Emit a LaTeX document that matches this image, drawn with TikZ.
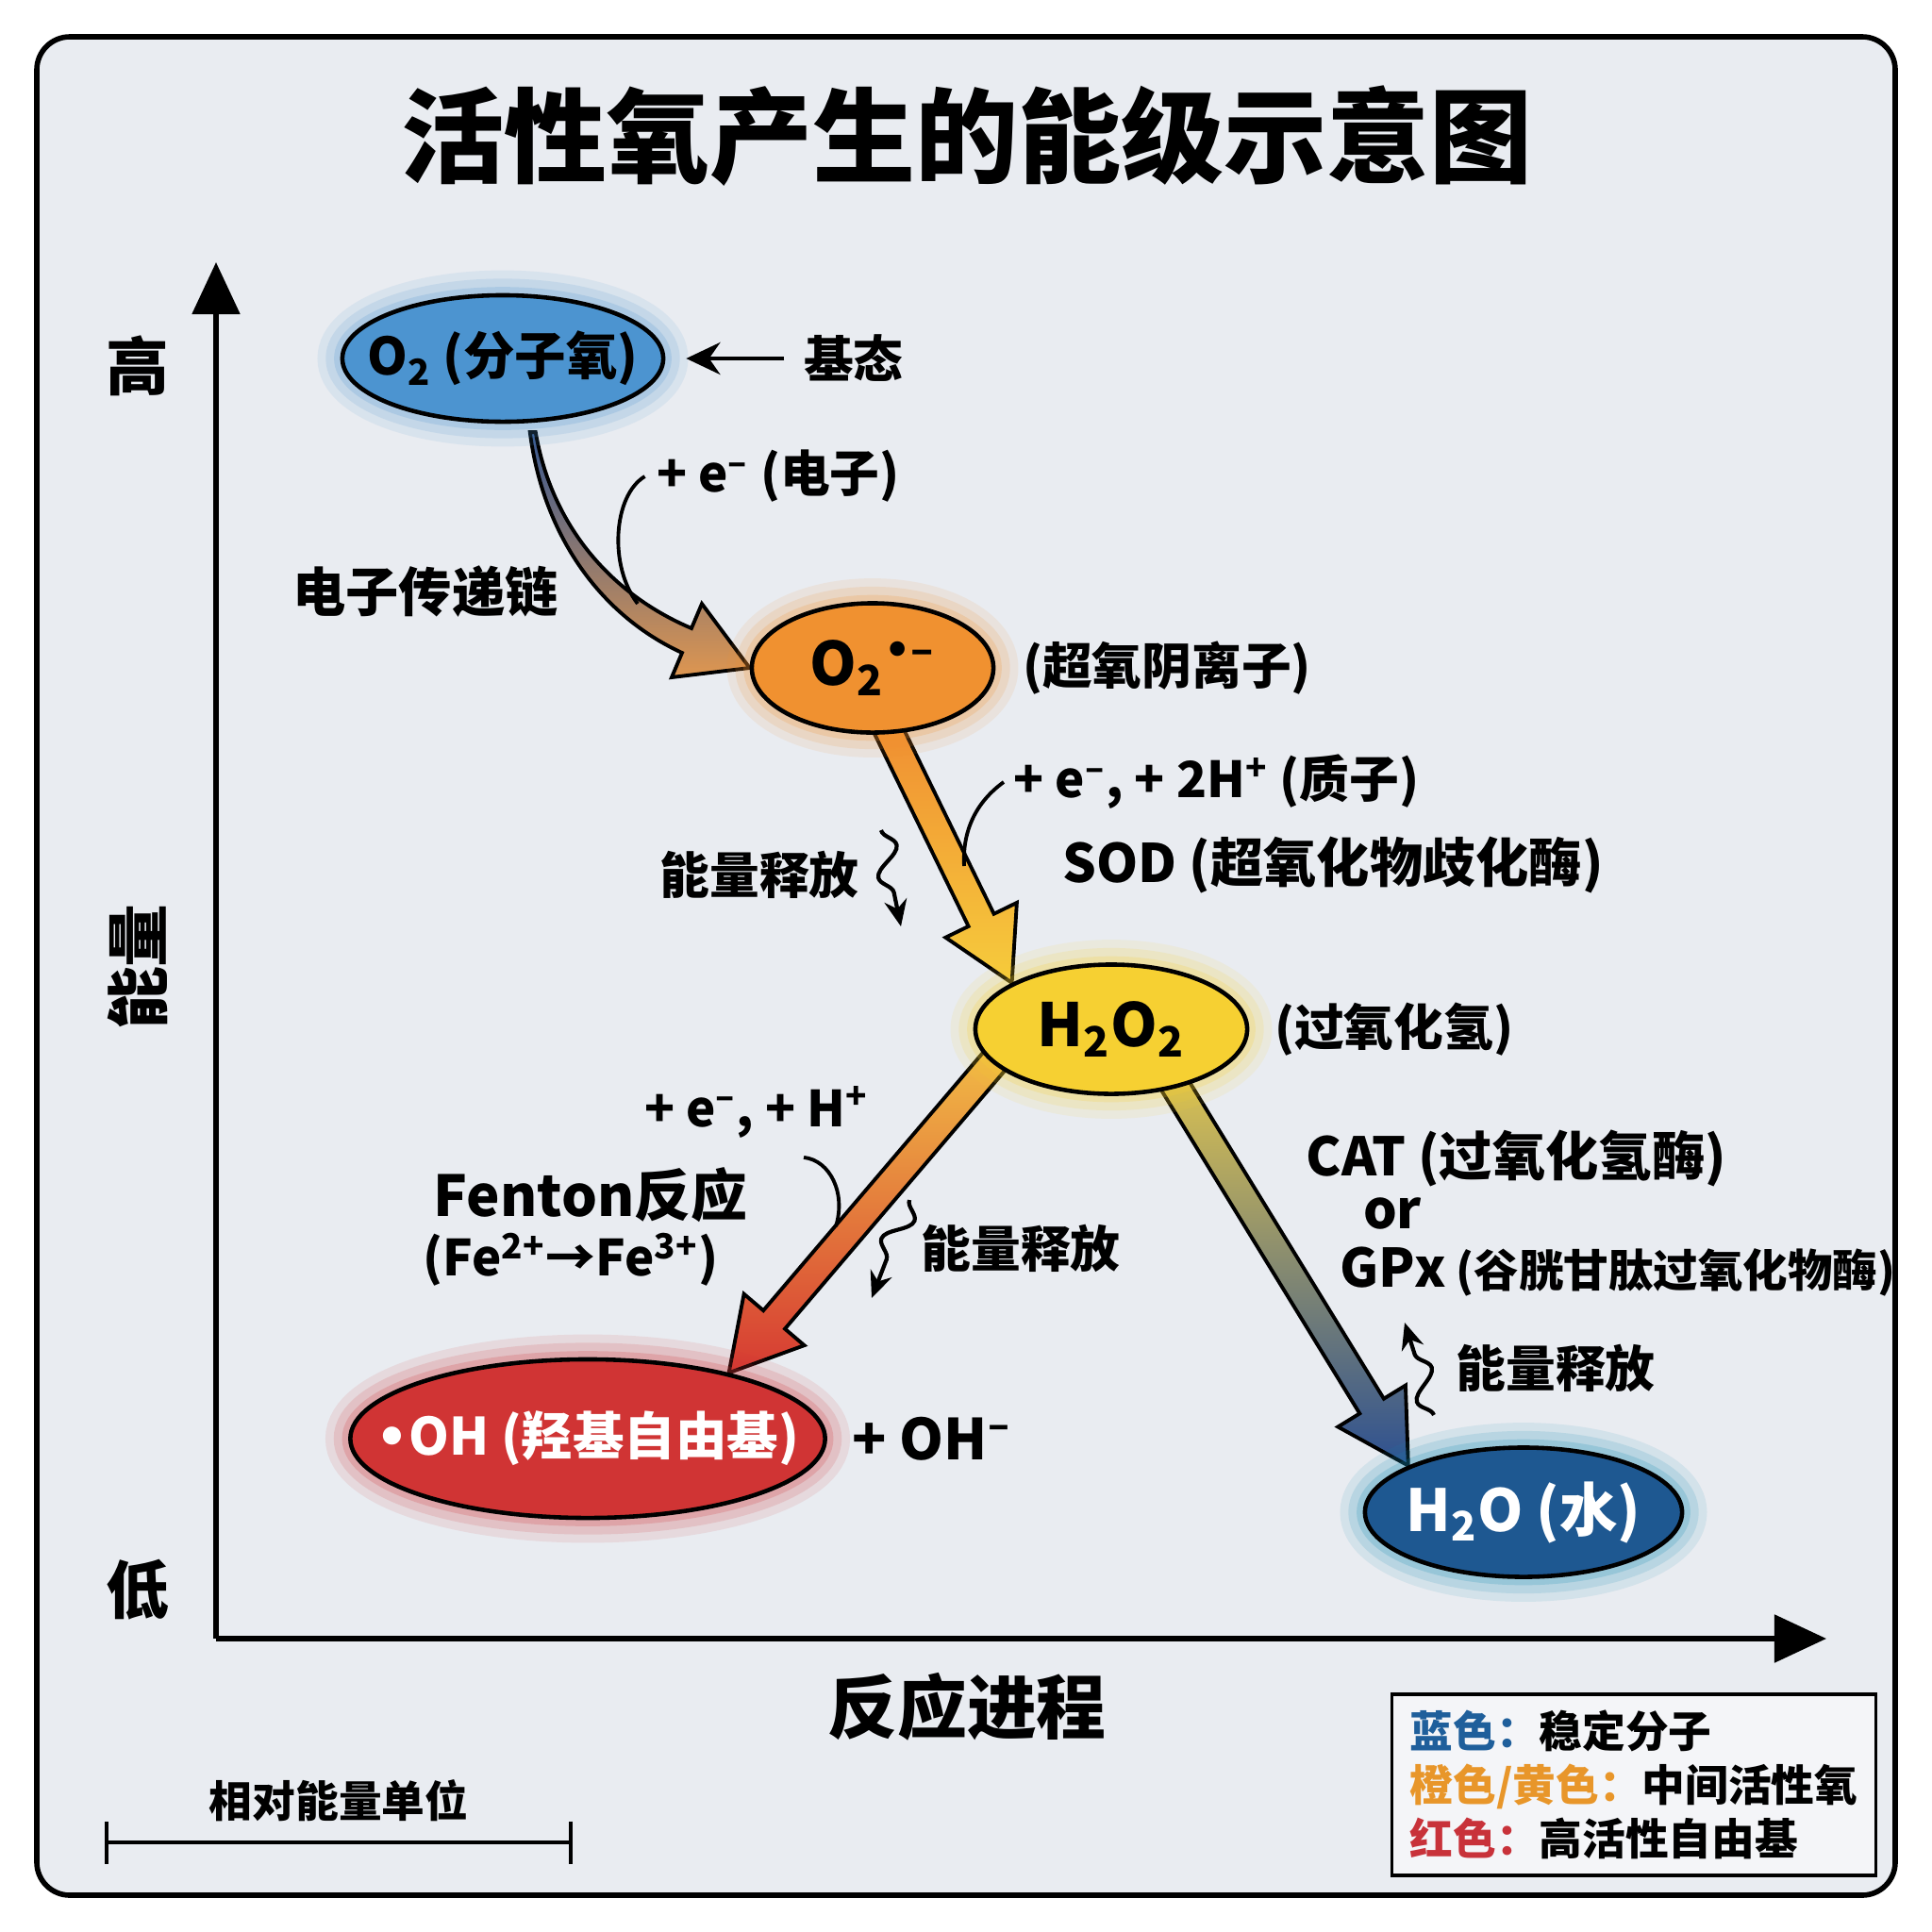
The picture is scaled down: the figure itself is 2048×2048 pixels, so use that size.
\documentclass[tikz,border=0pt]{standalone}
\usepackage{fontspec}
\setmainfont{Noto Sans CJK SC}
\newfontfamily\dotfont{DejaVu Sans}
\usepackage{xcolor}
\usepackage{tikz}
\usetikzlibrary{arrows.meta,positioning,shapes.geometric,calc,decorations.pathmorphing}

\definecolor{paper}{RGB}{233,236,241}
\definecolor{groundblue}{RGB}{76,148,208}
\definecolor{superorange}{RGB}{240,145,48}
\definecolor{peroxyellow}{RGB}{246,208,50}
\definecolor{radicalred}{RGB}{208,52,52}
\definecolor{waterblue}{RGB}{30,88,145}
\definecolor{keyblue}{RGB}{31,95,155}
\definecolor{keyorange}{RGB}{232,150,42}
\definecolor{keyred}{RGB}{200,50,58}

\pgfdeclarelayer{back}
\pgfdeclarelayer{flow}
\pgfsetlayers{back,flow,main}

\newcommand{\fs}[1]{\fontsize{#1}{#1}\selectfont\bfseries}
\newcommand{\inside}[1]{\makebox[0pt]{#1}}
\newcommand{\rad}{{\dotfont\bfseries •}}

% broad shaded arrow from #1 to the tip #2
\newcommand{\fatarrow}[3]{%
  \coordinate (fa-s) at ($(#1)!-0.15cm!(#2)$);
  \coordinate (fa-t) at (#2);
  \coordinate (fa-h) at ($(fa-t)!0.74cm!(fa-s)$);
  \shadedraw[fat, #3] ($(fa-s)!0.15cm!90:(fa-t)$) -- ($(fa-h)!0.15cm!90:(fa-t)$)
    -- ($(fa-h)!0.42cm!90:(fa-t)$) -- (fa-t) -- ($(fa-h)!0.42cm!-90:(fa-t)$)
    -- ($(fa-h)!0.15cm!-90:(fa-t)$) -- ($(fa-s)!0.15cm!-90:(fa-t)$) -- cycle;
}

\begin{document}
\begin{tikzpicture}[x=0.01cm, y=-0.01cm,
  mol/.style={ellipse, draw=black, line width=1.3pt, inner sep=0pt, align=center},
  glow/.style={preaction={draw=#1, draw opacity=0.10, line width=15pt},
    preaction={draw=#1, draw opacity=0.14, line width=10pt},
    preaction={draw=#1, draw opacity=0.20, line width=5pt}},
  lbl/.style={font=\fs{15}, inner sep=0pt},
  fat/.style={draw=black, line width=1.1pt, line join=miter},
  feed/.style={line width=1.1pt},
  wave/.style={line width=1.2pt, decorate,
    decoration={snake, amplitude=1.3mm, segment length=6mm, post length=2.5mm},
    -{Stealth[length=2.8mm, width=2.4mm]}},
  axis/.style={line width=1.5pt, -{Triangle[length=5.5mm, width=5mm]}},
  pointer/.style={line width=1.3pt, -{Stealth[length=3.6mm, width=3.4mm]}},
]
  % --- paper and frame ------------------------------------------------
  \begin{pgfonlayer}{back}
    \fill[white] (0,0) rectangle (2048,2048);
    \draw[fill=paper, line width=1.6pt, rounded corners=0.35cm] (39,39) rectangle (2009,2009);
  \end{pgfonlayer}
  \useasboundingbox (0,0) rectangle (2048,2048);

  \node[font=\fs{31}] (title) at (1025,144) {活性氧产生的能级示意图};

  % --- axes -----------------------------------------------------------
  \coordinate (origin) at (229,1737);
  \coordinate (ytop) at (229,278);
  \coordinate (xend) at (1936,1737);
  \draw[axis] (origin) -- (ytop);
  \draw[axis] (origin) -- (xend);
  \node[font=\fs{19}] (hi) at (146,388) {高};
  \node[font=\fs{19}, rotate=90] (energy) at (146,1025) {能量};
  \node[font=\fs{19}] (lo) at (146,1685) {低};
  \node[font=\fs{21}] (progress) at (1025,1809) {反应进程};

  % --- the species ----------------------------------------------------
  \node[mol, fill=groundblue, glow=groundblue, minimum width=3.4cm, minimum height=1.34cm,
    font=\fs{15.5}] (o2) at (533,380) {\inside{O\textsubscript{2} (分子氧)}};
  \node[mol, fill=superorange, glow=superorange, minimum width=2.56cm, minimum height=1.37cm,
    font=\fs{18}] (sup) at (925,708) {\inside{O\textsubscript{2}\textsuperscript{\rad–}}};
  \node[mol, fill=peroxyellow, glow=peroxyellow, minimum width=2.88cm, minimum height=1.37cm,
    font=\fs{18}] (per) at (1178,1091) {\inside{H\textsubscript{2}O\textsubscript{2}}};
  \node[mol, fill=radicalred, glow=radicalred, minimum width=5.03cm, minimum height=1.68cm,
    font=\fs{15.5}, text=white] (oh) at (623,1525) {\inside{\rad OH (羟基自由基)}};
  \node[mol, fill=waterblue, glow=waterblue!70!cyan, minimum width=3.36cm, minimum height=1.37cm,
    font=\fs{17.5}, text=white] (h2o) at (1615,1603) {\inside{H\textsubscript{2}O (水)}};

  % --- names beside the species ---------------------------------------
  \node[lbl, right=1.46cm of o2] (ground) {基态};
  \draw[pointer, shorten <=0.2cm, shorten >=0.22cm] (ground.west) -- (o2.east);
  \node[lbl, right=0.28cm of sup] (supname) {(超氧阴离子)};
  \node[lbl, right=0.26cm of per] (pername) {(过氧化氢)};
  \node[lbl, font=\fs{17}, right=0.26cm of oh] (ohminus) {+ OH\textsuperscript{–}};

  % --- step labels ----------------------------------------------------
  \node[lbl] (eone) at (825,505) {+ e\textsuperscript{–} (电子)};
  \node[lbl, font=\fs{16}] (chain) at (451,627) {电子传递链};
  \node[lbl, anchor=west] (etwo) at (1074,829) {+ e\textsuperscript{–}, + 2H\textsuperscript{+} (质子)};
  \node[lbl, anchor=west, font=\fs{16}] (sod) at (1126,917) {SOD (超氧化物歧化酶)};
  \node[lbl] (rel1) at (805,927) {能量释放};
  \node[lbl] (ethree) at (802,1179) {+ e\textsuperscript{–}, + H\textsuperscript{+}};
  \node[lbl, font=\fs{17}] (fenton) at (626,1267) {Fenton反应};
  \node[lbl] (fe) at (605,1335) {(Fe\textsuperscript{2+}→Fe\textsuperscript{3+})};
  \node[lbl] (rel2) at (1082,1323) {能量释放};
  \node[lbl, anchor=west, font=\fs{16}] (cat) at (1384,1228) {CAT (过氧化氢酶)};
  \node[lbl, font=\fs{16}] (orword) at (1476,1286) {or};
  \node[lbl, anchor=west, font=\fs{13.5}] (gpx) at (1420,1348) {{\fs{16}GPx} (谷胱甘肽过氧化物酶)};
  \node[lbl] (rel3) at (1649,1450) {能量释放};

  % --- broad arrows between the species ------------------------------
  \begin{pgfonlayer}{flow}
    \path (o2.-65) ++(0,10) coordinate (c-s);
    \shadedraw[fat, top color={rgb,255:red,55;green,88;blue,145},
      middle color={rgb,255:red,165;green,165;blue,175},
      bottom color={rgb,255:red,222;green,150;blue,80}]
      ([xshift=0.03cm]c-s) .. controls (585,558) and (648,630) .. (733,666)
      -- (744,640) -- (sup.west) -- (712,718) -- (723,692)
      .. controls (632,650) and (575,562) .. ([xshift=-0.03cm]c-s) -- cycle;
    \fatarrow{sup.-75}{per.155}{top color={rgb,255:red,240;green,140;blue,50},
      bottom color={rgb,255:red,246;green,204;blue,60}}
    \fatarrow{per.196}{oh.25}{top color={rgb,255:red,242;green,190;blue,70},
      middle color={rgb,255:red,236;green,130;blue,60},
      bottom color={rgb,255:red,214;green,58;blue,50}}
    \fatarrow{per.-42}{h2o.158}{top color={rgb,255:red,222;green,196;blue,80},
      middle color={rgb,255:red,140;green,150;blue,120},
      bottom color={rgb,255:red,45;green,80;blue,145}}
  \end{pgfonlayer}

  % --- reagents joining the arrows -----------------------------------
  \coordinate (j1) at (676,640);
  \draw[feed] ([xshift=-0.12cm]eone.west) .. controls (650,525) and (645,600) .. (j1);
  \coordinate (j2) at (1022,918);
  \draw[feed] ([xshift=-0.1cm]etwo.west) .. controls (1035,850) and (1020,880) .. (j2);
  \coordinate (j3) at (886,1300);
  \draw[feed] ([xshift=0.5cm, yshift=-0.2cm]ethree.south) .. controls (880,1230) and (897,1265) .. (j3);

  % --- energy given off ------------------------------------------------
  \coordinate (w1a) at (934,880);
  \coordinate (w1b) at (955,982);
  \draw[wave] (w1a) -- (w1b);
  \coordinate (w2a) at (964,1272);
  \coordinate (w2b) at (924,1376);
  \draw[wave] (w2a) -- (w2b);
  \coordinate (w3a) at (1520,1500);
  \coordinate (w3b) at (1489,1402);
  \draw[wave] (w3a) -- (w3b);

  % --- key and scale ---------------------------------------------------
  \node[draw=black, line width=0.9pt, fill=paper!50!white, minimum width=5.12cm,
    minimum height=1.92cm, align=left, inner xsep=0.19cm,
    font=\fontsize{13}{16.3}\selectfont\bfseries] (key) at (1732,1892)
    {\textcolor{keyblue}{蓝色：}稳定分子\\
     \textcolor{keyorange}{橙色/黄色：}中间活性氧\\
     \textcolor{keyred}{红色：}高活性自由基};
  \coordinate (bar-l) at (111,1953);
  \coordinate (bar-r) at (607,1953);
  \draw[line width=1.2pt, {Bar[width=4.5mm]}-{Bar[width=4.5mm]}] (bar-l) -- (bar-r);
  \node[lbl, font=\fs{13}] (unit) at (359,1909) {相对能量单位};
\end{tikzpicture}
\end{document}
